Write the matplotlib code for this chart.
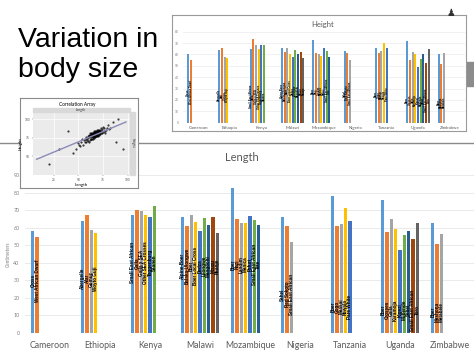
import matplotlib
matplotlib.use('Agg')
import matplotlib.pyplot as plt
from matplotlib.patches import Rectangle
import numpy as np

W, H = 474, 355

countries = ["Cameroon", "Ethiopia", "Kenya", "Malawi", "Mozambique",
             "Nigeria", "Tanzania", "Uganda", "Zimbabwe"]

breeds = [
    ["Cross", "West African Dwarf"],
    ["Abergelle", "Afar", "Gumuz", "Woyto Guji"],
    ["Small East African", "Galla", "Galla x SEA", "Other SEA Crosses", "Toggenburg", "Saanen"],
    ["Alpine-Boer", "Balaka-Ulongwe", "Boer", "Boer Local Cross", "Dedza", "Lilongwe",
     "Mangochi", "Mzuzu", "Nsanje"],
    ["Boer", "Nazi", "Landim", "Manica", "Pafuri", "Small East African", "Tete"],
    ["Sahel", "Red Sokoto", "Small East African"],
    ["Boer", "Gogo", "Maasai", "Newala", "Pare White"],
    ["Boer", "Crosses", "Galla", "Karamoja", "Kigezi", "Mubende", "Sebei",
     "Small East African", "Toro"],
    ["Boer", "Mashona", "Matabele"],
]

# body length (cm), one list per country
length = [
    [58, 54.5],
    [64, 67, 58.5, 57],
    [67, 70, 69.5, 67, 66, 72.5],
    [66, 61, 67, 63, 58.3, 65.4, 61.5, 66, 57],
    [82.4, 64.7, 62.5, 62.5, 66.6, 64.5, 61.7],
    [66, 61, 52],
    [78, 60.8, 62.3, 71.3, 64],
    [75.5, 57.4, 64.8, 59.5, 47.5, 56, 58.3, 53.6, 62.6],
    [62.5, 50.8, 56.6],
]

# height at withers (cm)
height = [
    [60.6, 54.7],
    [64, 66, 58, 56.5],
    [65, 74, 68, 64.7, 68.2, 68.2],
    [66, 62, 66, 60.3, 57.6, 63.5, 60, 62, 56.8],
    [72.6, 61.2, 60.3, 58.2, 65.6, 62.6, 57.4],
    [63.2, 60.9, 55.3],
    [65.6, 60.9, 62.6, 69.7, 65.6],
    [71.5, 55.3, 61.8, 60.3, 49, 55.6, 60.3, 52.4, 64.4],
    [60.3, 51.5, 61.2],
]

# where the breed names sit in each group
length_label_y = [30, 31, 40, 38, 39, 22, 15, 13, 12]
height_label_y = [27, 24, 23, 28, 28, 26, 25, 20, 18]

scat_len = [62, 65, 68, 70, 64, 60, 66, 72, 58, 63, 67, 69, 71, 74, 61, 59, 66, 64, 68, 73,
            76, 56, 55, 70, 62, 65, 67, 63, 69, 75, 78, 52, 50, 80, 82, 57, 60, 72, 66, 64,
            61, 68, 70, 74, 58, 63, 67, 71, 65, 69, 48, 85, 45, 88, 77, 54, 62, 66, 70, 73,
            20, 30, 95, 40, 90,
            63, 64, 65, 66, 67, 68, 69, 70, 71, 72, 64, 65, 66, 67, 68, 69, 70, 62, 63, 64,
            65, 66, 67, 60, 61, 62, 71, 72, 73, 74, 75, 76, 77, 58, 59, 57, 79, 81, 53, 51,
            66, 67, 68, 65, 64, 69, 70, 71, 63, 62]
scat_hgt = [76, 79, 78, 84, 74, 77, 82, 80, 69, 79, 76, 83, 86, 82, 70, 75, 75, 81, 83, 88,
            84, 72, 66, 77, 72, 74, 85, 73, 78, 90, 86, 64, 68, 93, 88, 74, 71, 86, 80, 78,
            77, 81, 79, 87, 74, 77, 81, 80, 80, 80, 60, 96, 55, 70, 82, 73, 79, 77, 84, 81,
            40, 60, 60, 85, 100,
            80, 77, 81, 79, 83, 80, 82, 85, 83, 84, 78, 76, 84, 78, 85, 79, 83, 81, 74, 80,
            82, 76, 80, 75, 79, 78, 84, 82, 85, 85, 83, 88, 85, 76, 72, 70, 89, 87, 70, 66,
            83, 79, 77, 76, 79, 86, 86, 79, 82, 77]

palette = ["#5B9BD5", "#ED7D31", "#A5A5A5", "#FFC000", "#4472C4",
           "#70AD47", "#255E91", "#9E480E", "#636363"]

plt.rcParams['font.family'] = ['Lato', 'DejaVu Sans']


def box(x0, y0, x1, y1):
    return [x0 / W, 1 - y1 / H, (x1 - x0) / W, (y1 - y0) / H]


def frame(fig, x0, y0, x1, y1, color="#9a9a9a", lw=0.8):
    a = fig.add_axes(box(x0, y0, x1, y1))
    a.set_xticks([])
    a.set_yticks([])
    a.set_facecolor("white")
    for s in a.spines.values():
        s.set_color(color)
        s.set_linewidth(lw)
    return a


def grouped_bars(ax, values, names, label_y, fs_label):
    slot = 0.086
    for ci, vals in enumerate(values):
        for bi, v in enumerate(vals):
            x = ci - 4 * slot + bi * slot
            ax.bar(x, v, width=slot * 0.78, color=palette[bi], zorder=2)
            ax.text(x, label_y[ci], names[ci][bi], rotation=90, ha='center', va='center',
                    fontsize=fs_label, fontweight='bold', color='black', zorder=3,
                    family=['Liberation Sans'])


fig = plt.figure(figsize=(W / 100, H / 100), dpi=100)
fig.patch.set_facecolor("white")

# slide title
fig.text(18 / W, 1 - 47 / H, "Variation in", fontsize=20.5, family=['Liberation Sans'],
         ha='left', va='baseline')
fig.text(18 / W, 1 - 77 / H, "body size", fontsize=20.5, family=['Liberation Sans'],
         ha='left', va='baseline')

# decorations on the right edge
fig.add_artist(Rectangle((466 / W, 1 - 86 / H), 9 / W, 24 / H, transform=fig.transFigure,
                         color="#8c8c8c", zorder=0))
fig.text(451 / W, 1 - 13 / H, "\u265f", fontsize=7, color="#333333", ha='center', va='center')

# ---- main "Length" chart ----
frame(fig, -2, 143, 476, 357, color="#8a8a8a", lw=1.0)
ax = fig.add_axes(box(25, 175, 475, 333))
grouped_bars(ax, length, breeds, length_label_y, 3.3)
ax.set_xlim(-0.5, 8.5)
ax.set_ylim(0, 90)
ax.set_yticks(range(0, 91, 10))
ax.set_xticks(range(len(countries)))
ax.set_xticklabels(countries)
ax.tick_params(axis='x', length=0, pad=6, labelsize=6.3, labelcolor="#595959")
ax.tick_params(axis='y', length=0, pad=4, labelsize=3.8, labelcolor="#7f7f7f")
ax.grid(axis='y', color="#e6e6e6", linewidth=0.6, zorder=0)
ax.set_facecolor("none")
for s in ax.spines.values():
    s.set_visible(False)
ax.set_ylabel("Centimeters", fontsize=3.3, color="#7f7f7f", labelpad=2)
fig.text(242 / W, 1 - 157 / H, "Length", fontsize=8, color="#595959", ha='center', va='center')

# ---- inset "Height" chart ----
frame(fig, 172, 15, 466, 131, color="#9a9a9a", lw=0.8)
axh = fig.add_axes(box(183, 31.7, 465, 122.7))
grouped_bars(axh, height, breeds, height_label_y, 1.9)
axh.set_xlim(-0.5, 8.5)
axh.set_ylim(0, 80)
axh.set_yticks(range(0, 81, 10))
axh.set_xticks(range(len(countries)))
axh.set_xticklabels(countries)
axh.tick_params(axis='x', length=0, pad=2.5, labelsize=3.2, labelcolor="#595959")
axh.tick_params(axis='y', length=0, pad=3, labelsize=2.3, labelcolor="#7f7f7f")
axh.grid(axis='y', color="#ececec", linewidth=0.5, zorder=0)
axh.set_facecolor("none")
for s in axh.spines.values():
    s.set_visible(False)
fig.text(323 / W, 1 - 24 / H, "Height", fontsize=5.5, color="#595959", ha='center', va='center')

# ---- inset correlation scatter ----
frame(fig, 20, 98, 138, 188, color="#8a8a8a", lw=0.8)
axs = fig.add_axes(box(32.7, 112, 130, 175))
axs.set_facecolor("#EBEBEB")
axs.grid(color="white", linewidth=0.5)
axs.set_axisbelow(True)
axs.scatter(scat_len, scat_hgt, s=2.5, color="black", alpha=0.75, linewidths=0)
fit = np.polyfit(scat_len, scat_hgt, 1)
xs = np.array([8, 98])
axs.plot(xs, fit[0] * xs + fit[1], color="#8a8ab8", linewidth=1.0)
axs.set_xlim(4, 102)
axs.set_ylim(25, 110)
axs.set_xticks([25, 50, 75, 100])
axs.set_yticks([50, 75, 100])
axs.tick_params(length=1, width=0.3, pad=1, labelsize=2.3, labelcolor="#555555", color="#555555")
for s in axs.spines.values():
    s.set_visible(False)
axs.set_xlabel("Length", fontsize=3.2, labelpad=1)
axs.set_ylabel("Height", fontsize=3.2, labelpad=1)
# facet strips
fig.add_artist(Rectangle((32.7 / W, 1 - 112 / H), 97.3 / W, 4 / H, transform=fig.transFigure,
                         color="#D9D9D9"))
fig.text(81 / W, 1 - 110 / H, "Length", fontsize=2.3, ha='center', va='center', color="#333333")
fig.add_artist(Rectangle((130 / W, 1 - 175 / H), 5 / W, 63 / H, transform=fig.transFigure,
                         color="#D9D9D9"))
fig.text(132.5 / W, 1 - 143 / H, "Height", fontsize=2.3, rotation=-90, ha='center', va='center',
         color="#333333")
fig.text(77 / W, 1 - 104.5 / H, "Correlation Array", fontsize=3.4, ha='center', va='center')

fig.savefig("out.png", dpi=100)
